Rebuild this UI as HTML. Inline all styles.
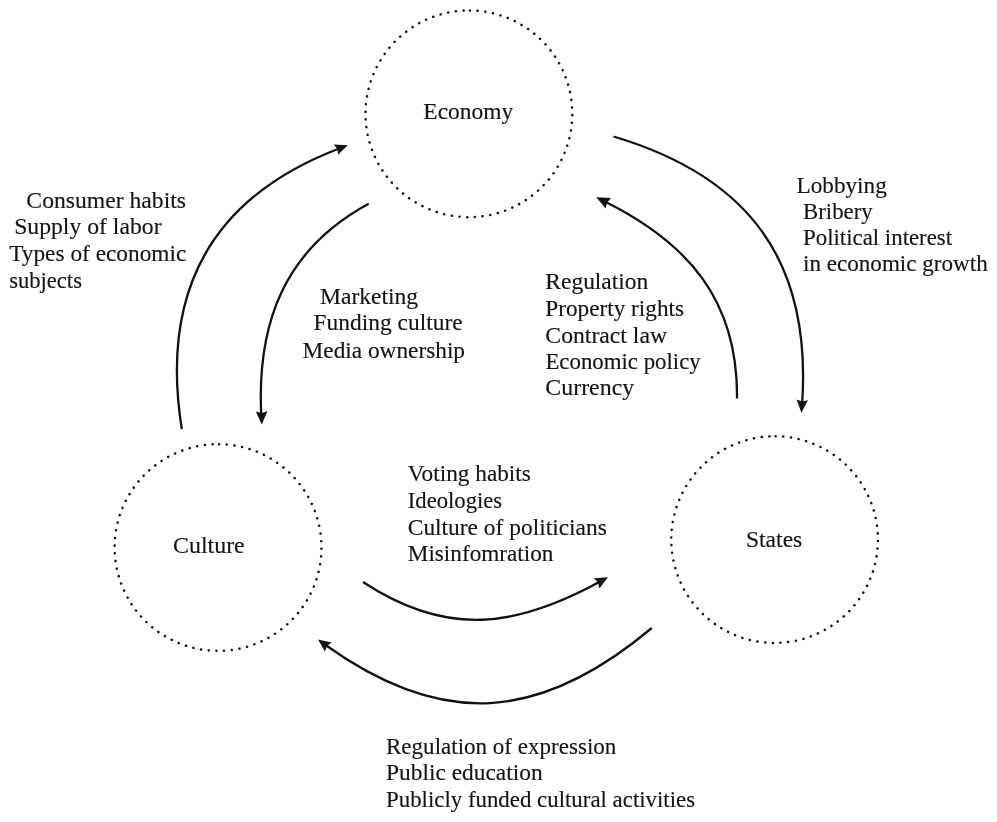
<!DOCTYPE html>
<html><head><meta charset="utf-8"><style>
html,body{margin:0;padding:0;background:#fff;width:997px;height:822px;overflow:hidden}
svg{display:block;will-change:transform}
text{font-family:"Liberation Serif",serif;font-size:23px;fill:#141414;stroke:#141414;stroke-width:0.15px}
</style></head><body>
<svg width="997" height="822" viewBox="0 0 997 822">
<path d="M468.9,10.45A103.35,103.35 0 1 1 468.9,217.15A103.35,103.35 0 1 1 468.9,10.45" fill="none" stroke="#111" stroke-width="2.5" stroke-linecap="round" stroke-dasharray="0.1 7.64" stroke-dashoffset="-1"/><path d="M218.05,444.15A103.35,103.35 0 1 1 218.05,650.85A103.35,103.35 0 1 1 218.05,444.15" fill="none" stroke="#111" stroke-width="2.5" stroke-linecap="round" stroke-dasharray="0.1 7.64" stroke-dashoffset="-1"/><path d="M774.6,436.25A103.35,103.35 0 1 1 774.6,642.95A103.35,103.35 0 1 1 774.6,436.25" fill="none" stroke="#111" stroke-width="2.5" stroke-linecap="round" stroke-dasharray="0.1 7.64" stroke-dashoffset="-1"/><path d="M181.80,429.10C159.92,291.81 210.55,197.60 339.21,148.47" fill="none" stroke="#111" stroke-width="2.3"/><path d="M347.80,145.30L333.80,144.40L337.40,149.06L338.00,154.80Z" fill="#111"/><path d="M368.70,203.80C283.64,249.84 256.87,323.89 261.23,414.90" fill="none" stroke="#111" stroke-width="2.3"/><path d="M261.80,424.50L255.80,411.50L261.62,413.00L267.40,411.30Z" fill="#111"/><path d="M613.50,136.50C750.26,177.07 811.64,262.58 802.14,403.33" fill="none" stroke="#111" stroke-width="2.3"/><path d="M801.40,412.80L796.60,399.50L802.15,401.45L807.90,400.20Z" fill="#111"/><path d="M737.00,398.50C738.12,299.79 687.77,243.02 605.33,201.70" fill="none" stroke="#111" stroke-width="2.3"/><path d="M596.30,197.30L611.10,198.10L606.97,202.63L605.70,208.60Z" fill="#111"/><path d="M363.00,582.00C447.34,637.64 516.83,627.13 599.73,581.81" fill="none" stroke="#111" stroke-width="2.3"/><path d="M608.00,577.20L593.90,578.30L598.06,582.59L599.40,588.40Z" fill="#111"/><path d="M651.80,628.00C540.01,721.75 442.34,728.69 325.54,645.01" fill="none" stroke="#111" stroke-width="2.3"/><path d="M318.00,639.50L331.70,642.60L327.05,646.06L325.00,651.40Z" fill="#111"/>
<text x="423.38" y="118.9" textLength="89.87" lengthAdjust="spacingAndGlyphs">Economy</text><text x="172.96" y="552.7" textLength="71.78" lengthAdjust="spacingAndGlyphs">Culture</text><text x="745.95" y="547.1" textLength="56.36" lengthAdjust="spacingAndGlyphs">States</text><text x="26.36" y="207.8" textLength="159.65" lengthAdjust="spacingAndGlyphs">Consumer habits</text><text x="14.16" y="234.1" textLength="147.38" lengthAdjust="spacingAndGlyphs">Supply of labor</text><text x="9.19" y="261.1" textLength="177.10" lengthAdjust="spacingAndGlyphs">Types of economic</text><text x="9.21" y="287.9" textLength="72.73" lengthAdjust="spacingAndGlyphs">subjects</text><text x="319.99" y="303.8" textLength="98.13" lengthAdjust="spacingAndGlyphs">Marketing</text><text x="313.58" y="330.1" textLength="149.02" lengthAdjust="spacingAndGlyphs">Funding culture</text><text x="302.59" y="357.5" textLength="162.45" lengthAdjust="spacingAndGlyphs">Media ownership</text><text x="545.39" y="288.8" textLength="102.86" lengthAdjust="spacingAndGlyphs">Regulation</text><text x="545.39" y="315.6" textLength="138.61" lengthAdjust="spacingAndGlyphs">Property rights</text><text x="545.38" y="342.8" textLength="121.69" lengthAdjust="spacingAndGlyphs">Contract law</text><text x="545.41" y="368.5" textLength="155.38" lengthAdjust="spacingAndGlyphs">Economic policy</text><text x="545.37" y="395.2" textLength="88.81" lengthAdjust="spacingAndGlyphs">Currency</text><text x="796.60" y="192.6" textLength="90.14" lengthAdjust="spacingAndGlyphs">Lobbying</text><text x="803.01" y="218.9" textLength="69.75" lengthAdjust="spacingAndGlyphs">Bribery</text><text x="803.01" y="245.4" textLength="149.10" lengthAdjust="spacingAndGlyphs">Political interest</text><text x="803.00" y="271.4" textLength="184.76" lengthAdjust="spacingAndGlyphs">in economic growth</text><text x="407.79" y="481.2" textLength="123.08" lengthAdjust="spacingAndGlyphs">Voting habits</text><text x="407.82" y="508.2" textLength="94.33" lengthAdjust="spacingAndGlyphs">Ideologies</text><text x="407.78" y="534.6" textLength="199.04" lengthAdjust="spacingAndGlyphs">Culture of politicians</text><text x="407.79" y="560.7" textLength="145.59" lengthAdjust="spacingAndGlyphs">Misinfomration</text><text x="386.00" y="753.5" textLength="230.35" lengthAdjust="spacingAndGlyphs">Regulation of expression</text><text x="385.99" y="779.8" textLength="156.67" lengthAdjust="spacingAndGlyphs">Public education</text><text x="386.01" y="807.2" textLength="309.10" lengthAdjust="spacingAndGlyphs">Publicly funded cultural activities</text>
</svg>
</body></html>
